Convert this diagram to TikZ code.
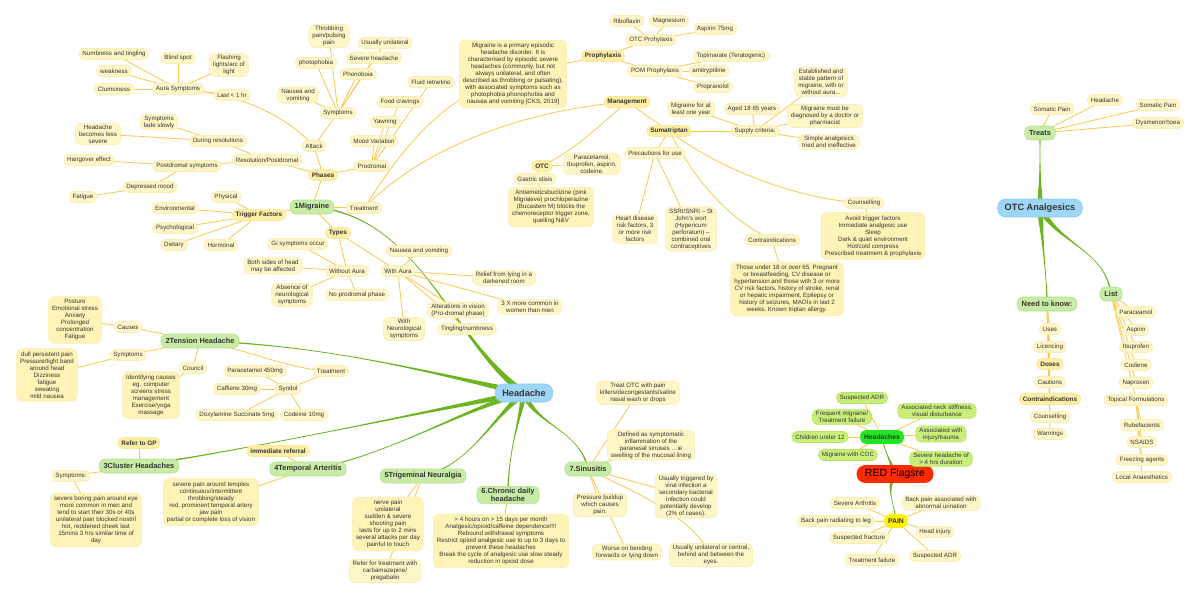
\documentclass[tikz,border=0pt]{standalone}
\usepackage{fontspec}
\setmainfont{Liberation Sans}
\usetikzlibrary{backgrounds,calc}
\definecolor{leaff}{HTML}{FFF6C8}
\definecolor{leafb}{HTML}{FCEDB2}
\definecolor{bleaff}{HTML}{FFEFA4}
\definecolor{bleafb}{HTML}{FCE79A}
\definecolor{notef}{HTML}{FFF3B8}
\definecolor{brf}{HTML}{C8EBA6}
\definecolor{brb}{HTML}{B6E190}
\definecolor{rootf}{HTML}{9ED6F8}
\definecolor{rootb}{HTML}{88CCF4}
\definecolor{lin}{HTML}{FBC94A}
\definecolor{brg}{HTML}{6DB520}
\definecolor{txt}{HTML}{333333}
\definecolor{limef}{HTML}{C9EF7A}
\definecolor{limeb}{HTML}{B8E466}
\definecolor{hgreen}{HTML}{22E622}
\definecolor{redf}{HTML}{FF2A00}
\definecolor{painf}{HTML}{FFF200}
\tikzset{
 leaf/.style={draw=leafb, fill=leaff, line width=0.6pt, rounded corners=5pt, inner xsep=3.5pt, inner ysep=1.6pt, minimum height=11pt, align=center, text=txt, font=\fontsize{6.2}{7}\selectfont},
 bleaf/.style={leaf, fill=bleaff, draw=bleafb, font=\fontsize{6.4}{7}\selectfont\bfseries},
 note/.style={leaf, fill=notef, rounded corners=6pt, inner ysep=3pt},
 branch/.style={leaf, fill=brf, draw=brb, rounded corners=6pt, minimum height=14pt, inner xsep=4.5pt, font=\fontsize{7.4}{8.6}\selectfont\bfseries},
 rootnode/.style={leaf, fill=rootf, draw=rootb, rounded corners=8pt, minimum height=18pt, inner xsep=7pt, font=\fontsize{9.2}{11}\selectfont\bfseries},
 lime/.style={leaf, fill=limef, draw=limeb},
 conn/.style={draw=lin, line width=0.8pt},
}
% from, to, control1, control2, start half-width, end half-width
\newcommand\taper[6]{\fill[brg] ($#1!#5!90:#3$) .. controls #3 and #4 .. ($#2!#6!-90:#4$) -- ($#2!#6!90:#4$) .. controls #4 and #3 .. ($#1!#5!-90:#3$) -- cycle;}
\begin{document}
\begin{tikzpicture}[x=1pt,y=-1pt]
\useasboundingbox (0,0) rectangle (1200,599);
% ---------- roots ----------
\node[rootnode] (hd) at (524,393) {Headache};
\node[rootnode] (otca) at (1040,208) {OTC Analgesics};
% ---------- Migraine ----------
\node[branch] (mig) at (312,207) {1Migraine};
\node[bleaf] (phases) at (323,175) {Phases};
\node[leaf] (attack) at (314,146) {Attack};
\node[leaf] (prodromal) at (372,166) {Prodromal};
\node[leaf] (resol) at (267,160) {Resolution/Postdromal};
\node[leaf] (msym) at (338,113) {Symptoms};
\node[leaf] (aura) at (178,89) {Aura Symptoms};
\node[leaf] (last) at (232,95) {Last < 1 hr};
\node[leaf] (numb) at (114,54) {Numbness and tingling};
\node[leaf] (blind) at (178,58) {Blind spot};
\node[leaf] (flash) at (229,65) {Flashing\\lights/arc of\\light};
\node[leaf] (weak) at (114,71) {weakness};
\node[leaf] (clum) at (114,89) {Clumsiness};
\node[leaf] (throb) at (329,36) {Throbbing\\pain/pulsing\\pain};
\node[leaf] (unil) at (385,43) {Usually unilateral};
\node[leaf] (sevh) at (374,58) {Severe headache};
\node[leaf] (photo) at (316,63) {photophobia};
\node[leaf] (phono) at (358,74) {Phonoboia};
\node[leaf] (nausea1) at (298,95) {Nausea and\\vomiting};
\node[leaf] (fluid) at (431,82) {Fluid retnetino};
\node[leaf] (food) at (400,102) {Food cravings};
\node[leaf] (yawn) at (385,122) {Yawning};
\node[leaf] (mood) at (374,141) {Mood Variation};
\node[leaf] (during) at (218,141) {During resolutions};
\node[leaf] (fade) at (159,122) {Symptoms\\fade slowly};
\node[leaf] (less) at (98,134) {Headache\\becomes less\\severe};
\node[leaf] (postd) at (187,166) {Postdromal symptoms};
\node[leaf] (hang) at (89,160) {Hangover effect};
\node[leaf] (depr) at (150,187) {Depressed mood};
\node[leaf] (fatig) at (83,197) {Fatigue};
\node[leaf] (treat) at (364,208) {Treatment};
\node[note] (def) at (513,74) {Migraine is a primary episodic\\headache disorder. It is\\characterised by episodic severe\\headaches (commonly, but not\\always unilateral, and often\\described as throbbing or pulsating),\\with associated symptoms such as\\photophobia phonophobia and\\nausea and vomiting [CKS, 2019]};
\node[bleaf] (trig) at (259,215) {Trigger Factors};
\node[leaf] (phys) at (226,197) {Physical};
\node[leaf] (env) at (175,208) {Environmental};
\node[leaf] (psych) at (175,228) {Psychological};
\node[leaf] (diet) at (174,245) {Dietary};
\node[leaf] (horm) at (221,245) {Hormonal};
\node[bleaf] (types) at (338,233) {Types};
\node[leaf] (woaura) at (347,271) {Without Aura};
\node[leaf] (waura) at (398,271) {With Aura};
\node[leaf] (gi) at (298,244) {Gi symptoms occur};
\node[leaf] (both) at (273,266) {Both sides of head\\may be affected};
\node[leaf] (absence) at (292,295) {Absence of\\neurological\\symptoms};
\node[leaf] (noprod) at (357,295) {No prodromal phase};
\node[leaf] (nausea2) at (419,251) {Nausea and vomiting};
\node[leaf] (relief) at (504,278) {Relief from lying in a\\darkened room};
\node[leaf] (three) at (530,307) {3 X more common in\\women than men};
\node[leaf] (alter) at (458,310) {Alterations in vision\\(Pro-dromal phase)};
\node[leaf] (neuro) at (404,329) {With\\Neurological\\symptoms};
\node[leaf] (tingl) at (467,329) {Tingling/numbness};
% ---------- Management ----------
\node[bleaf] (manag) at (627,102) {Management};
\node[bleaf] (proph) at (603,56) {Prophylaxis};
\node[leaf] (otcp) at (651,40) {OTC Prohylaxis};
\node[leaf] (ribo) at (627,21) {Riboflavin};
\node[leaf] (magn) at (669,21) {Magnesium};
\node[leaf] (asp75) at (715,29) {Aspirin 75mg};
\node[leaf] (pomp) at (655,71) {POM Prophylaxis};
\node[leaf] (topi) at (731,56) {Topimarate (Teratogenic)};
\node[leaf] (amit) at (709,71) {amitryptiline};
\node[leaf] (prop) at (713,87) {Propranolol};
\node[bleaf] (suma) at (669,131) {Sumatriptan};
\node[leaf] (supply) at (755,131) {Supply criteria:};
\node[leaf] (oneyear) at (691,109) {Migraine for at\\least one year};
\node[leaf] (aged) at (752,109) {Aged 18 65 years};
\node[leaf] (estab) at (821,82) {Established and\\stable pattern of\\migraine, with or\\without aura...};
\node[leaf] (diag) at (825,116) {Migraine must be\\diagnosed by a doctor or\\pharmacist};
\node[leaf] (simple) at (829,142) {Simple analgesics\\tried and ineffective};
\node[leaf] (precau) at (655,153) {Precautions for use};
\node[leaf] (heart) at (635,229) {Heart disease\\risk factors, 3\\or more risk\\factors};
\node[leaf] (ssri) at (691,229) {SSRI/SNRI – St\\John's wort\\(Hypericum\\perforatum) –\\combined oral\\contraceptives};
\node[leaf] (contra) at (772,240) {Contraindications};
\node[note] (those) at (787,289) {Those under 18 or over 65, Pregnant\\or breastfeeding, CV disease or\\hypertension and those with 3 or more\\CV risk factors, history of stroke, renal\\or hepatic impairment, Epilepsy or\\history of seizures, MAOIs in last 2\\weeks, Known triptan allergy.};
\node[leaf] (couns) at (864,203) {Counselling};
\node[note] (avoid) at (873,236) {Avoid trigger factors\\Immediate analgesic use\\Sleep\\Dark \& quiet environment\\Hot/cold compress\\Prescribed treatment \& prophylaxis};
\node[bleaf] (otc) at (542,166) {OTC};
\node[leaf] (parac) at (592,164) {Paracetamol,\\Ibuprofen, aspirin,\\codeine.};
\node[leaf] (gastric) at (535,179) {Gastric stisis};
\node[note] (antiem) at (551,207) {Antiemeticsbuclizine (pink\\Migraleve) prochloperazine\\(Bucastem M) blocks the\\chemoreceptor trigger zone,\\quelling N\&V};
% ---------- Tension ----------
\node[branch] (tens) at (200,341) {2Tension Headache};
\node[leaf] (causes) at (128,327) {Causes};
\node[note] (posture) at (75,320) {Posture\\Emotional stress\\Anxiety\\Prolonged\\concentration\\Fatigue};
\node[leaf] (tsym) at (128,355) {Symptoms};
\node[note] (dull) at (47,375) {dull persistent pain\\Pressure/tight band\\around head\\Dizziness\\fatigue\\sweating\\mild nausea};
\node[leaf] (council) at (193,368) {Council};
\node[note] (ident) at (151,395) {Identifying causes\\eg. computer\\screens stress\\management\\Exercise/yoga\\massage};
\node[leaf] (ttreat) at (331,371) {Treatment};
\node[leaf] (syndol) at (288,389) {Syndol};
\node[leaf] (para450) at (255,371) {Paracetamol 450mg};
\node[leaf] (caff) at (237,389) {Caffiene 30mg};
\node[leaf] (doxy) at (237,415) {Doxylamine Succinate 5mg};
\node[leaf] (cod10) at (304,415) {Codeine 10mg};
% ---------- Cluster / Temporal / Trigeminal / Chronic ----------
\node[branch] (clus) at (139,466) {3Cluster Headaches};
\node[bleaf] (refgp) at (139,443) {Refer to GP};
\node[leaf] (csym) at (71,476) {Symptoms:};
\node[note] (boring) at (96,520) {severe boring pain around eye\\more common in men and\\tend to start their 30s or 40s\\unilateral pain blocked nostril\\hot, reddened cheek last\\15mins 3 hrs similar time of\\day};
\node[bleaf] (immed) at (278,451) {immediate referral};
\node[branch] (temp) at (308,469) {4Temporal Arteritis};
\node[note] (temples) at (211,502) {severe pain around temples\\continuous/intermittent\\throbbing/steady\\red, prominent temporal artery\\jaw pain\\partial or complete loss of vision};
\node[branch] (trig5) at (423,476) {5Trigeminal Neuralgia};
\node[note] (nerve) at (388,524) {nerve pain\\unilateral\\sudden \& severe\\shooting pain\\lasts for up to 2 mins\\several attacks per day\\painful to touch};
\node[leaf] (refer) at (385,571) {Refer for treatment with\\carbamazepine/\\pregabalin};
\node[branch] (chron) at (508,495) {6.Chronic daily\\headache};
\node[note] (four) at (501,541) {> 4 hours on > 15 days per month\\Analgesic/opioid/caffeine dependence!!!!\\Rebound withdrawal symptoms\\Restrict opioid analgesic use to up to 3 days to\\prevent these headaches\\Break the cycle of analgesic use slow steady\\reduction in opioid dose};
% ---------- Sinusitis ----------
\node[branch] (sinus) at (588,469) {7.Sinusitis};
\node[leaf] (treatotc) at (638,393) {Treat OTC with pain\\killers/decongestants/saline\\nasal wash or drops};
\node[leaf] (defined) at (651,445) {Defined as symptomatic\\inflammation of the\\paranasal sinuses …ie\\swelling of the mucosal lining};
\node[leaf] (press) at (600,505) {Pressure buildup\\which causes\\pain.};
\node[leaf] (worse) at (627,552) {Worse on bending\\forwards or lying down};
\node[leaf] (trigg) at (686,496) {Usually triggered by\\viral infection a\\secondary bacterial\\infection could\\potentially develop\\(2\% of cases).};
\node[leaf] (unil2) at (711,555) {Usually unilateral or central,\\behind and between the\\eyes.};
% ---------- Red flags ----------
\node[leaf, fill=redf, draw=redf, rounded corners=8pt, minimum height=17pt, inner xsep=8pt, text=black, font=\fontsize{10.5}{12}\selectfont] (red) at (895,474) {RED Flagsre};
\node[leaf, fill=hgreen, draw=hgreen, minimum height=13pt, font=\fontsize{6.8}{8}\selectfont\bfseries] (hds) at (882,437) {Headaches};
\node[lime] (sadr1) at (862,398) {Suspected ADR};
\node[lime] (freq) at (842,417) {Frequent migraine/\\Treatment failure};
\node[lime] (child) at (820,437) {Children under 12};
\node[lime] (coc) at (848,455) {Migraine with COC};
\node[lime] (neck) at (937,411) {Associated neck stiffness,\\visual disturbance};
\node[lime] (injury) at (941,434) {Associated with\\injury/trauma};
\node[lime] (sev4) at (941,459) {Severe headache of\\> 4 hrs duration};
\node[leaf, fill=painf, draw=painf, minimum height=13pt, font=\fontsize{6.8}{8}\selectfont\bfseries] (pain) at (896,521) {PAIN};
\node[leaf] (arth) at (855,503) {Severe Arthritis};
\node[leaf] (backleg) at (836,521) {Back pain radiating to leg};
\node[leaf] (fract) at (859,538) {Suspected fracture};
\node[leaf] (tfail) at (872,560) {Treatment failure};
\node[leaf] (backur) at (941,503) {Back pain associated with\\abnormal urination};
\node[leaf] (headinj) at (935,532) {Head injury};
\node[leaf] (sadr2) at (935,556) {Suspected ADR};
% ---------- OTC Analgesics ----------
\node[branch] (treats) at (1040,133) {Treats};
\node[leaf] (som1) at (1052,109) {Somatic Pain};
\node[leaf] (hdache) at (1105,100) {Headache};
\node[leaf] (som2) at (1158,105) {Somatic Pain};
\node[leaf] (dysm) at (1158,123) {Dysmenorrhoea};
\node[branch] (need) at (1047,304) {Need to know:};
\node[leaf] (uses) at (1050,329) {Uses};
\node[leaf] (lic) at (1050,347) {Licencing};
\node[bleaf] (doses) at (1050,364) {Doses};
\node[leaf] (caut) at (1050,382) {Cautions};
\node[bleaf] (contra2) at (1050,399) {Contraindications};
\node[leaf] (couns2) at (1050,417) {Counselling};
\node[leaf] (warn) at (1050,434) {Warnings};
\node[branch] (list) at (1111,294) {List};
\node[leaf] (pm) at (1136,312) {Paraceamol};
\node[leaf] (aspi) at (1136,330) {Aspirin};
\node[leaf] (ibu) at (1136,347) {Ibuprofen};
\node[leaf] (codi) at (1136,365) {Codiene};
\node[leaf] (napr) at (1136,383) {Naproxen};
\node[leaf] (topf) at (1136,400) {Topical Formulations};
\node[leaf] (rube) at (1142,425) {Rubefacients};
\node[leaf] (nsaids) at (1142,442) {NSAIDS};
\node[leaf] (freez) at (1142,460) {Freezing agents};
\node[leaf] (local) at (1142,477) {Local Anaesthetics};
% ---------- connectors ----------
\begin{pgfonlayer}{background}
\fill[white] (0,0) rectangle (1200,599);
% green tapered branches
\taper{(hd.center)}{(mig.center)}{(450,340)}{(420,215)}{3.5pt}{0.9pt}
\taper{(hd.center)}{(tens.center)}{(440,375)}{(330,345)}{3.5pt}{0.9pt}
\taper{(hd.center)}{(clus.center)}{(430,410)}{(300,440)}{3.5pt}{0.9pt}
\taper{(hd.center)}{(temp.center)}{(460,410)}{(380,460)}{3.5pt}{0.9pt}
\taper{(hd.center)}{(trig5.center)}{(490,420)}{(470,465)}{3.5pt}{0.9pt}
\taper{(hd.center)}{(chron.center)}{(520,420)}{(508,450)}{3.5pt}{0.9pt}
\taper{(hd.center)}{(sinus.center)}{(535,425)}{(580,430)}{3.5pt}{0.9pt}
\taper{(otca.center)}{(treats.center)}{(1040,180)}{(1040,150)}{3.5pt}{0.9pt}
\taper{(otca.center)}{(need.center)}{(1042,240)}{(1047,280)}{3.5pt}{0.9pt}
\taper{(otca.center)}{(list.center)}{(1060,245)}{(1105,250)}{3.5pt}{0.9pt}
\taper{(red.center)}{(hds.center)}{(890,460)}{(884,450)}{3pt}{0.9pt}
\taper{(red.center)}{(pain.center)}{(885,490)}{(895,505)}{3pt}{0.9pt}
% yellow connectors
\foreach \a/\b in {mig/phases, phases/attack, phases/prodromal, phases/resol, attack/msym,
  aura/last, aura/numb, aura/blind, aura/flash, aura/weak, aura/clum,
  msym/throb, msym/photo, msym/phono, msym/sevh, msym/unil, msym/nausea1,
  resol/during, resol/postd, during/fade, during/less, postd/hang, postd/depr, depr/fatig,
  prodromal/mood, prodromal/yawn, prodromal/food, prodromal/fluid,
  mig/treat, def/proph, otc/parac, otc/gastric, gastric/antiem,
  proph/otcp, proph/pomp, otcp/ribo, otcp/magn, otcp/asp75, pomp/topi, pomp/amit, pomp/prop,
  manag/suma, suma/supply, supply/oneyear, supply/aged, supply/estab, supply/diag, supply/simple,
  suma/precau, precau/heart, precau/ssri, contra/those, couns/avoid,
  mig/trig, trig/phys, trig/env, trig/psych, trig/diet, trig/horm,
  mig/types, types/woaura, types/waura, woaura/gi, woaura/both, woaura/absence, woaura/noprod,
  waura/nausea2, waura/relief, waura/three, waura/alter, waura/neuro, waura/tingl,
  tens/causes, tens/tsym, tens/council, causes/posture, tsym/dull, council/ident,
  ttreat/syndol, syndol/para450, syndol/caff, syndol/doxy, syndol/cod10,
  clus/refgp, clus/csym, csym/boring, temp/immed, temp/temples,
  trig5/nerve, trig5/refer, chron/four,
  sinus/treatotc, sinus/defined, sinus/press, sinus/trigg, sinus/worse,
  hds/sadr1, hds/freq, hds/child, hds/coc, hds/neck, hds/injury, hds/sev4,
  pain/arth, pain/backleg, pain/fract, pain/tfail, pain/backur, pain/headinj, pain/sadr2,
  treats/som1, treats/hdache, treats/som2, treats/dysm,
  need/uses, need/lic, need/doses, need/caut, need/contra2, need/couns2, need/warn,
  list/pm, list/aspi, list/ibu, list/codi, list/napr, list/topf,
  topf/rube, topf/nsaids, topf/freez, topf/local}
  {\draw[conn] (\a.center) -- (\b.center);}
\draw[conn] (aura.center) .. controls (230,92) and (280,110) .. (attack.center);
\draw[conn] (treat.center) .. controls (390,170) and (430,100) .. (def.center);
\draw[conn] (treat.center) .. controls (420,150) and (520,110) .. (manag.center);
\draw[conn] (manag.center) .. controls (600,125) and (575,150) .. (otc.center);
\draw[conn] (suma.center) .. controls (690,170) and (720,215) .. (contra.center);
\draw[conn] (suma.center) .. controls (720,170) and (800,200) .. (couns.center);
\draw[conn] (tens.center) .. controls (250,350) and (290,370) .. (ttreat.center);
\draw[conn] (sinus.center) .. controls (640,495) and (690,515) .. (unil2.center);
\end{pgfonlayer}
\end{tikzpicture}
\end{document}
